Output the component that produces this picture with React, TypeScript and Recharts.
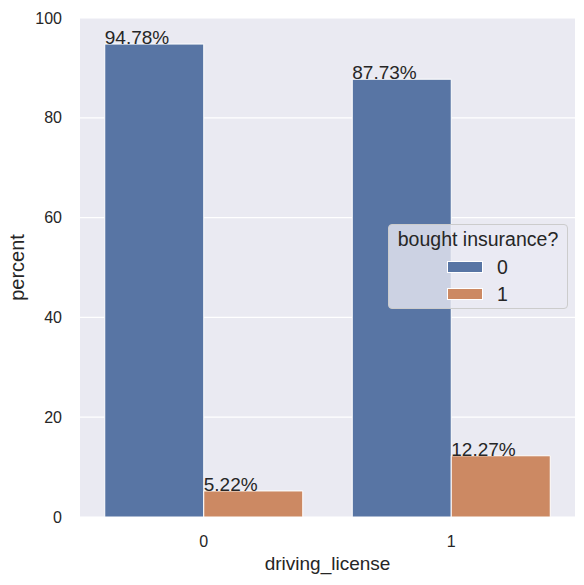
import React from 'react';
import { BarChart, Bar, XAxis, YAxis, CartesianGrid, LabelList } from 'recharts';

const categories = ['0', '1'];
const notBought = [94.78, 87.73];
const bought = [5.22, 12.27];
const yTicks = [0, 20, 40, 60, 80, 100];
const legendTitle = 'bought insurance?';
const legendNames = ['0', '1'];

const BLUE = '#5875A4';
const ORANGE = '#CC8963';
const TEXT = '#262626';
const FONT = '"Liberation Sans", Arial, sans-serif';

const data = categories.map((c, i) => ({ license: c, no: notBought[i], yes: bought[i] }));

const PctLabel = (props: any) => {
  const { x, y, value } = props;
  return (
    <text x={x} y={y} textAnchor="start" fill={TEXT} fontSize={19} fontFamily={FONT}>
      {`${Number(value).toFixed(2)}%`}
    </text>
  );
};

// legend drawn as an overlay, matplotlib-style frame
const LegendBox = () => (
  <div
    style={{
      position: 'absolute',
      left: 388,
      top: 224,
      width: 180,
      height: 85,
      boxSizing: 'border-box',
      background: 'rgba(234,234,242,0.8)',
      border: '1px solid #cccccc',
      borderRadius: 4,
      fontFamily: FONT,
      color: TEXT,
      fontSize: 19.5,
      lineHeight: '20px',
    }}
  >
    <div style={{ position: 'absolute', left: 0, right: 0, top: 4, textAlign: 'center', whiteSpace: 'nowrap' }}>{legendTitle}</div>
    {legendNames.map((name, i) => (
      <React.Fragment key={name}>
        <div
          style={{
            position: 'absolute',
            left: 58,
            top: 36 + i * 27,
            width: 36,
            height: 12,
            background: i === 0 ? BLUE : ORANGE,
            border: '1px solid #fff',
            boxSizing: 'border-box',
          }}
        />
        <div style={{ position: 'absolute', left: 108, top: 32 + i * 27 }}>{name}</div>
      </React.Fragment>
    ))}
  </div>
);

export default function App() {
  return (
    <div style={{ position: 'absolute', left: 0, top: 0, width: 584, height: 585, background: '#fff' }}>
      <BarChart
        width={584}
        height={585}
        data={data}
        margin={{ top: 18, right: 9, bottom: 8, left: 10 }}
        barCategoryGap="10%"
        barGap={0}
      >
        <CartesianGrid vertical={false} fill="#EAEAF2" stroke="#ffffff" strokeWidth={1.2} />
        <XAxis
          dataKey="license"
          height={60}
          axisLine={false}
          tickLine={false}
          tickSize={0}
          tickMargin={19}
          tick={{ fill: TEXT, fontSize: 16, fontFamily: FONT }}
          label={{ value: 'driving_license', position: 'insideBottom', offset: 7, fill: TEXT, fontSize: 19, fontFamily: FONT }}
        />
        <YAxis
          width={70}
          domain={[0, 100]}
          ticks={yTicks}
          axisLine={false}
          tickLine={false}
          tickSize={0}
          tickMargin={18}
          tick={{ fill: TEXT, fontSize: 16, fontFamily: FONT }}
          label={{ value: 'percent', angle: -90, position: 'insideLeft', offset: 7, fill: TEXT, fontSize: 20, fontFamily: FONT, style: { textAnchor: 'middle' } }}
        />
        <Bar dataKey="no" fill={BLUE} stroke="#ffffff" strokeWidth={1} isAnimationActive={false}>
          <LabelList dataKey="no" content={PctLabel} />
        </Bar>
        <Bar dataKey="yes" fill={ORANGE} stroke="#ffffff" strokeWidth={1} isAnimationActive={false}>
          <LabelList dataKey="yes" content={PctLabel} />
        </Bar>
      </BarChart>
      <LegendBox />
    </div>
  );
}
